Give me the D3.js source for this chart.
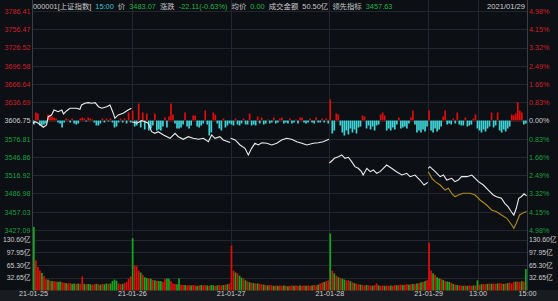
<!DOCTYPE html>
<html><head><meta charset="utf-8">
<script src="https://cdn.jsdelivr.net/npm/d3@7/dist/d3.min.js"></script>
<style>
html,body{margin:0;padding:0;background:#0c0f14;}
svg{display:block;}
text{font-family:"Liberation Sans","Noto Sans CJK SC",sans-serif;}
</style></head>
<body><svg id="c" width="558" height="301"></svg>
<script>
// ---------- data ----------
const dayLabels = ["21-01-25","21-01-26","21-01-27","21-01-28","21-01-29"];
const timeTicks = [0,240,480,720,960,1080,1200];
const timeLabels = ["21-01-25","21-01-26","21-01-27","21-01-28","21-01-29","13:00","15:00"];
const prevClose = 3606.75;
const priceTicks = [3786.41,3756.47,3726.52,3696.58,3666.64,3636.69,3606.75,3576.81,3546.86,3516.92,3486.98,3457.03,3427.09];
const pctLabels = ["4.98%","4.15%","3.32%","2.49%","1.66%","0.83%","0.00%","0.83%","1.66%","2.49%","3.32%","4.15%","4.98%"];
const volTicks = [130.60,97.95,65.30,32.65];

// price [minute of day, price]
const price0125 = [[0,3602.2],[5,3604.8],[13,3602.2],[25,3595.6],[33,3599.4],[37,3613.0],[45,3615.8],[51,3624.0],[61,3621.2],[70,3624.0],[74,3617.4],[82,3622.8],[90,3626.8],[106,3626.8],[114,3625.1],[118,3632.2],[126,3635.0],[134,3636.0],[143,3635.0],[151,3636.0],[159,3629.4],[167,3626.8],[179,3629.4],[187,3632.2],[195,3618.6],[199,3610.4],[207,3615.8],[219,3618.6],[231,3624.0],[239,3626.8]];
const price0126 = [[0,3604.8],[12,3602.2],[24,3606.4],[32,3604.8],[40,3602.2],[48,3588.4],[56,3585.8],[64,3588.4],[77,3583.0],[93,3577.6],[105,3585.8],[113,3580.2],[125,3575.9],[137,3580.2],[149,3577.5],[162,3575.9],[174,3577.5],[186,3572.0],[194,3583.0],[202,3577.5],[214,3580.2],[222,3574.8],[234,3572.0],[239,3570.5]];
const price0127 = [[0,3577.5],[11,3574.8],[23,3566.6],[35,3561.1],[43,3550.2],[51,3561.1],[59,3569.3],[67,3566.6],[76,3570.3],[88,3569.3],[100,3566.6],[112,3569.3],[124,3574.8],[136,3577.5],[148,3575.9],[161,3572.0],[173,3569.3],[185,3566.6],[201,3569.3],[213,3570.3],[225,3572.0],[239,3575.9]];
const price0128 = [[0,3537.0],[8,3541.9],[12,3544.7],[22,3547.4],[30,3550.2],[38,3544.7],[46,3546.4],[54,3539.2],[62,3531.0],[70,3528.3],[78,3522.8],[82,3517.3],[91,3528.3],[99,3522.8],[107,3525.5],[115,3520.1],[123,3522.8],[131,3528.3],[139,3533.7],[151,3528.3],[163,3522.8],[176,3517.3],[188,3520.1],[196,3514.6],[208,3517.3],[220,3509.1],[230,3500.9],[239,3505.2]];
const price0129 = [[0,3528.3],[4,3531.0],[17,3522.8],[29,3514.6],[37,3517.3],[45,3509.1],[57,3511.9],[65,3506.4],[73,3509.1],[81,3514.6],[94,3514.6],[106,3517.3],[114,3511.9],[122,3506.4],[134,3500.9],[146,3492.7],[158,3484.5],[166,3481.7],[178,3479.1],[186,3470.9],[194,3465.3],[202,3457.1],[208,3451.7],[214,3462.7],[220,3479.1],[226,3481.7],[233,3486.5],[239,3483.07]];
const lead0129 = [[0,3522.8],[9,3511.9],[17,3506.4],[29,3500.9],[41,3492.7],[49,3495.5],[57,3487.3],[65,3481.7],[73,3484.5],[85,3487.3],[102,3487.3],[114,3484.5],[126,3476.3],[142,3468.1],[154,3459.9],[166,3457.1],[178,3451.7],[191,3446.3],[203,3435.3],[208,3429.9],[214,3438.1],[222,3451.7],[233,3456.0],[239,3457.63]];

// buy/sell force bars (positive red, negative cyan)
const force0125 = [-4,8,7,-5,-5,-4,-3,6,5,4,3,2,-2,-3,-7,-2,2,1,-2,2,-3,-4,-3,2,3,2,-1,3,2,1,-2,-5,-5,-3,2,-2,2,-1,2,-2,-7,-6,-2,2,-2,2,-3,8,-2];
const force0126 = [10,-6,-5,17,-7,8,-9,7,-10,-8,-5,7,-10,-9,-10,-6,3,-7,4,17,6,-3,-8,-8,-7,-4,8,-6,-8,-5,5,5,-6,-7,-5,-3,10,-4,-15,-12,8,6,-3,-8,-10,2,-7,-5,-3];
const force0127 = [-4,-5,2,-4,-5,-3,2,-4,-4,7,-5,-4,-5,4,-3,3,-4,-3,1,-3,-2,3,-3,-2,2,3,-3,-2,-3,2,-3,-2,1,-3,3,3,-2,-3,-2,2,-2,-3,3,-2,-2,2,-2,2,-3];
const force0128 = [21,-13,-10,7,6,-5,-12,-15,-10,-14,-8,-12,-9,-13,-7,-6,5,4,-8,-5,-9,-6,-10,-5,-4,6,8,5,-10,-8,-10,-7,-9,-4,3,-8,-7,-6,-8,-3,3,10,-4,-12,-10,-12,-9,-11,-6];
const force0129 = [10,-10,-12,-8,-11,-9,-6,4,10,-4,-3,-4,2,-3,8,-4,-5,-5,3,-6,-5,-4,2,6,-8,-10,-12,-9,-11,-8,-6,8,-7,-5,8,-10,-12,-9,-11,-8,-6,6,5,7,18,10,8,-4,-3];

// volume (亿) and up/down flags
const vol0125 = [163,77,60,51,45,37,29,28,25,24,24,23,22,23,21,20,19,18,19,17,18,17,18,17,36,17,16,17,16,15,16,17,16,15,17,16,18,17,18,24,28,25,18,16,17,19,22,30,36];
const dir0125 = "grrrgrrgrgrrggrrgrrggrgrrgrggrrgrgrggrggggrrgrrrr";
const vol0126 = [134,64,62,51,46,40,34,32,31,30,27,26,25,24,24,22,29,31,30,24,18,17,16,31,15,14,14,13,14,13,14,13,12,13,14,13,14,13,12,14,13,12,13,14,13,14,15,16,18];
const dir0126 = "grrrgrggrgrgrggrrggrrrggrrgrrgrrgrgrrgrggrgrrgrgr";
const vol0127 = [115,51,46,44,38,33,31,26,23,21,20,19,18,18,17,16,15,14,13,14,13,12,13,12,13,12,13,12,11,12,13,12,13,12,13,12,13,12,13,12,13,14,13,15,18,20,22,24,26];
const dir0127 = "rrgrggrgrgrgrgrrgrgrrgrgrrgrgrrgrrgrrgrrgrrgrrgrr";
const vol0128 = [146,51,44,38,34,32,30,28,26,26,24,21,19,17,16,15,14,13,14,13,13,12,14,18,13,12,13,12,13,12,13,12,14,13,14,15,14,15,16,15,16,17,16,18,19,21,22,24,26];
const dir0128 = "grgrgrggrrgrgrrgrrgrrgrrgrrgrrgrrgrrgrrgrgrgrgrgr";
const vol0129 = [123,51,44,40,34,31,30,27,24,23,22,20,17,15,14,13,13,12,13,12,13,12,13,13,26,15,16,17,16,17,18,17,18,17,18,19,18,17,18,19,20,18,22,23,23,22,24,23,55];
const dir0129 = "rrgrggrgrggrgrgrrgrgrrgrgrgrrgrgrrgrrgrgrrrgrrgrg";

const priceDays = [price0125,price0126,price0127,price0128,price0129];
const forceDays = [force0125,force0126,force0127,force0128,force0129];
const volDays = [vol0125,vol0126,vol0127,vol0128,vol0129];
const dirDays = [dir0125,dir0126,dir0127,dir0128,dir0129];

const headerItems = [
  {t:"000001[上证指数]", c:"#c9c9c9"},
  {t:"15:00", c:"#37c6d8"},
  {t:"价", c:"#c9c9c9"},
  {t:"3483.07", c:"#27b345"},
  {t:"涨跌", c:"#c9c9c9"},
  {t:"-22.11(-0.63%)", c:"#27b345"},
  {t:"均价", c:"#c9c9c9"},
  {t:"0.00", c:"#27b345"},
  {t:"成交金额", c:"#c9c9c9"},
  {t:"50.50亿", c:"#c9c9c9"},
  {t:"领先指标", c:"#c9c9c9"},
  {t:"3457.63", c:"#27b345"}
];
const headerDate = "2021/01/29";

// ---------- drawing ----------
const W = 558, H = 301;
const left = 33, right = 527;
const svg = d3.select("#c");
const MIN_DAY = 240;

const x = d3.scaleLinear().domain([0, MIN_DAY*5]).range([left, right]);
const y = d3.scaleLinear().domain([3427.09, 3786.41]).range([230, 11]);
const yForce = d3.scaleLinear().domain([-20, 20]).range([y(prevClose)+20, y(prevClose)-20]);
const yVol = d3.scaleLinear().domain([0, 163.25]).range([290.5, 226.75]);

const RED = "#e00d0d", CYAN = "#3fd2d6", GREEN = "#14a81e", GRID = "#22272e";
const FS = 7.2;

svg.append("rect").attr("width", W).attr("height", H).attr("fill", "#0c0f14");
svg.append("rect").attr("x",0).attr("y",290).attr("width",W).attr("height",11).attr("fill","#181b20");

// grid
const g = svg.append("g");
g.selectAll("line.h").data(priceTicks).join("line")
  .attr("x1", left).attr("x2", right)
  .attr("y1", d=>Math.round(y(d))+0.5).attr("y2", d=>Math.round(y(d))+0.5)
  .attr("stroke", GRID);
g.selectAll("line.hv").data(volTicks).join("line")
  .attr("x1", left).attr("x2", right)
  .attr("y1", d=>Math.round(yVol(d))+0.5).attr("y2", d=>Math.round(yVol(d))+0.5)
  .attr("stroke", GRID);
g.selectAll("line.v").data(timeTicks.slice(1,-1)).join("line")
  .attr("x1", d=>Math.round(x(d))+0.5).attr("x2", d=>Math.round(x(d))+0.5)
  .attr("y1", 0).attr("y2", 290)
  .attr("stroke", GRID);
// borders
svg.append("line").attr("x1",left-0.5).attr("x2",left-0.5).attr("y1",0).attr("y2",290).attr("stroke","#3a3f47");
svg.append("line").attr("x1",right+0.5).attr("x2",right+0.5).attr("y1",0).attr("y2",290).attr("stroke","#3a3f47");

// force bars
const step = MIN_DAY/49;
forceDays.forEach((arr, d) => {
  svg.append("g").selectAll("rect").data(arr).join("rect")
    .attr("x", (v,i)=>x(d*MIN_DAY + i*step))
    .attr("width", (v,i)=>x(d*MIN_DAY+(i+1)*step)-x(d*MIN_DAY+i*step)-0.3)
    .attr("y", v=>v>0 ? yForce(v) : yForce(0))
    .attr("height", v=>Math.abs(yForce(v)-yForce(0)))
    .attr("fill", v=>v>0 ? RED : CYAN);
});

// volume bars
volDays.forEach((arr, d) => {
  svg.append("g").selectAll("rect").data(arr).join("rect")
    .attr("x", (v,i)=>x(d*MIN_DAY + i*step))
    .attr("width", (v,i)=>x(d*MIN_DAY+(i+1)*step)-x(d*MIN_DAY+i*step)-0.3)
    .attr("y", v=>yVol(v))
    .attr("height", v=>yVol(0)-yVol(v))
    .attr("fill", (v,i)=>dirDays[d][i]==="g" ? GREEN : RED);
});

// price lines
priceDays.forEach((arr, d) => {
  const line = d3.line().x(p=>x(d*MIN_DAY+p[0])).y(p=>y(p[1]));
  svg.append("path").datum(arr).attr("d", line)
    .attr("fill","none").attr("stroke","#ececec").attr("stroke-width",1.1);
});
{
  const d = 4;
  const line = d3.line().x(p=>x(d*MIN_DAY+p[0])).y(p=>y(p[1]));
  svg.append("path").datum(lead0129).attr("d", line)
    .attr("fill","none").attr("stroke","#b08a22").attr("stroke-width",1.1);
}

// axes
const colorFor = v => v > prevClose+0.01 ? "#cc2228" : (v < prevClose-0.01 ? "#1f9f3f" : "#cfcfcf");
const axL = svg.append("g").attr("transform",`translate(${left-1},0)`)
  .call(d3.axisLeft(y).tickValues(priceTicks).tickSize(0).tickPadding(1.5).tickFormat(d=>d.toFixed(2)));
axL.select(".domain").remove();
axL.selectAll("text").attr("fill", d=>colorFor(d)).attr("font-size",FS);

const axR = svg.append("g").attr("transform",`translate(${right+1},0)`)
  .call(d3.axisRight(y).tickValues(priceTicks).tickSize(0).tickPadding(1).tickFormat((d,i)=>pctLabels[i]));
axR.select(".domain").remove();
axR.selectAll("text").attr("fill", d=>colorFor(d)).attr("font-size",FS);

const axVL = svg.append("g").attr("transform",`translate(${left-1},0)`)
  .call(d3.axisLeft(yVol).tickValues(volTicks).tickSize(0).tickPadding(1.5).tickFormat(d=>d.toFixed(2)+"亿"));
axVL.select(".domain").remove();
axVL.selectAll("text").attr("fill","#d0d0d0").attr("font-size",6.8);

const axVR = svg.append("g").attr("transform",`translate(${right+1},0)`)
  .call(d3.axisRight(yVol).tickValues(volTicks).tickSize(0).tickPadding(1).tickFormat(d=>d.toFixed(2)+"亿"));
axVR.select(".domain").remove();
axVR.selectAll("text").attr("fill","#d0d0d0").attr("font-size",6.8);

const axB = svg.append("g").attr("transform",`translate(0,289)`)
  .call(d3.axisBottom(x).tickValues(timeTicks).tickSize(0).tickPadding(2).tickFormat((d,i)=>timeLabels[i]));
axB.select(".domain").remove();
axB.selectAll("text").attr("fill","#d0d0d0").attr("font-size",FS);

// header
const ht = svg.append("text").attr("x", left).attr("y", 8.5).attr("font-size", 7.4);
headerItems.forEach((h,i) => {
  ht.append("tspan").attr("dx", i===0?0:4).attr("fill", h.c).text(h.t);
});
svg.append("text").attr("x", 525).attr("y", 8.5).attr("font-size", 7.6)
  .attr("text-anchor","end").attr("fill","#cfcfcf").text(headerDate);
</script></body></html>
